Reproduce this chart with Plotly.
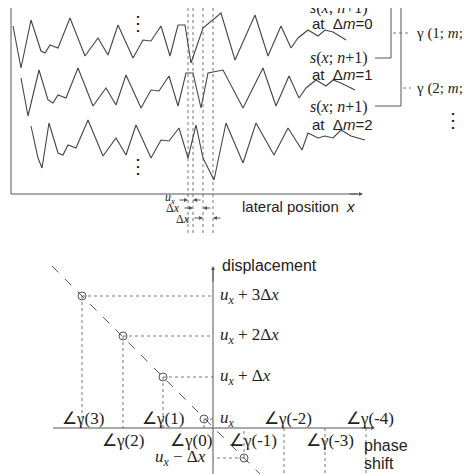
import plotly.graph_objects as go

# ---- top panel waveforms (x, y in diagram units) ----
wave1_x = [5,13,23,33,37,42,50,62,77,90,100,110,125,135,143,153,162,170,177,183,195,213,227,247,260,273,283,290,300,310,317,325,338]
wave1_y = [18,60,12,43,45,37,40,10,48,30,47,17,50,32,33,18,48,17,17,55,20,5,52,7,48,18,40,30,22,28,22,24,32]
wave2_x = [13,20,31,40,45,50,58,70,85,98,108,118,133,143,151,161,170,178,185,193,200,215,235,255,268,281,291,298,308,318,325,333,347]
wave2_y = [70,108,62,92,95,87,90,60,98,80,97,67,100,82,83,68,98,65,65,100,65,62,100,60,98,68,90,80,72,78,72,75,82]
wave3_x = [23,30,34,41,50,55,60,68,80,95,108,118,128,143,153,161,171,180,188,195,206,218,235,248,266,280,294,300,310,317,325,333,343,357]
wave3_y = [118,150,160,115,145,147,137,140,112,148,130,147,117,150,132,133,120,150,117,150,172,115,155,115,147,120,142,125,130,128,130,122,128,132]

# ---- bottom panel: phase-shift/displacement points ----
pt_x = [74,115,155,196,236]
pt_y = [288,328,369,411,450]
disp_labels = ["<i>u<sub>x</sub></i> + 3Δ<i>x</i>", "<i>u<sub>x</sub></i> + 2Δ<i>x</i>", "<i>u<sub>x</sub></i> + Δ<i>x</i>", "<i>u<sub>x</sub></i>"]
phase_labels = ["∠γ(3)","∠γ(2)","∠γ(1)","∠γ(0)","∠γ(-1)","∠γ(-2)","∠γ(-3)","∠γ(-4)"]
phase_x = [75,115,155,183,245,280,322,362]
phase_y = [410,432,410,432,432,410,432,410]

G = "#555"
fig = go.Figure()
def line(xs, ys, dash="solid", w=1, c=G):
    fig.add_trace(go.Scatter(x=xs, y=ys, mode="lines", line=dict(color=c, width=w, dash=dash), hoverinfo="skip"))

for wx, wy in [(wave1_x, wave1_y), (wave2_x, wave2_y), (wave3_x, wave3_y)]:
    line(wx, wy, w=1.1, c="#444")
line([3,3,350], [0,186,186])
for vx in [180,185,195,205]:
    line([vx,vx], [0,225], dash="dot", w=0.8)
line([367,383,383], [50,50,0])
line([367,393,393], [98,98,0])
line([385,403], [25,25], dash="dot", w=0.8)
line([395,403], [80,80], dash="dot", w=0.8)

line([45,362], [420,420])
line([205,205], [474,262])
line([44,260], [258,474], dash="dash", w=1)
for px, py in zip(pt_x, pt_y):
    line([px,205],[py,py], dash="dot", w=0.8)
    line([px,px],[py,420], dash="dot", w=0.8)
for vx in [276,317,358]:
    line([vx,vx],[420,474], dash="dot", w=0.8)
fig.add_trace(go.Scatter(x=pt_x, y=pt_y, mode="markers",
    marker=dict(symbol="circle-open", size=8, color=G, line=dict(width=1)), hoverinfo="skip"))

ann = []
def T(x, y, t, size=13, anchor="left", serif=True):
    ann.append(dict(x=x, y=y, text=t, showarrow=False, xanchor=anchor, yanchor="middle",
        font=dict(size=size, color="#222", family="Liberation Serif" if serif else "Liberation Sans")))
def A(x, y, ax, ay):
    ann.append(dict(x=x, y=y, ax=ax, ay=ay, axref="x", ayref="y", showarrow=True,
        arrowhead=2, arrowsize=0.8, arrowwidth=1, arrowcolor=G, text=""))

A(355,186,340,186)
A(205,258,205,275)
A(367,420,352,420)
A(180,192,170,192); A(185,192,194,192)
A(185,200,175,200); A(195,200,204,200)
A(195,210,185,210); A(205,210,214,210)
T(169,190,"<i>u<sub>x</sub></i>",12,"right")
T(174,200,"Δ<i>x</i>",12,"right")
T(184,211,"Δ<i>x</i>",12,"right")
T(232,198,"lateral position  <i>x</i>",15,serif=False)

T(300,0,"<i>s</i>(<i>x</i>; <i>n</i>+1)",16)
T(302,15,"at  Δ<i>m</i>=0",15,serif=False)
T(300,50,"<i>s</i>(<i>x</i>; <i>n</i>+1)",16)
T(302,66,"at  Δ<i>m</i>=1",15,serif=False)
T(300,99,"<i>s</i>(<i>x</i>; <i>n</i>+1)",16)
T(302,116,"at  Δ<i>m</i>=2",15,serif=False)
T(406,25,"γ (1; <i>m</i>; <i>n</i>)",15)
T(406,80,"γ (2; <i>m</i>; <i>n</i>)",15)
T(445,112,"⋮",20,"center")
T(130,15,"⋮",20,"center")
T(130,158,"⋮",20,"center")

T(212,257,"displacement",16,serif=False)
for lab, py in zip(disp_labels, pt_y[:4]):
    T(210, py, lab, 17)
T(200,450,"<i>u<sub>x</sub></i> − Δ<i>x</i>",17,"right")
for lab, px, py in zip(phase_labels, phase_x, phase_y):
    T(px, py, lab, 17, "center")
T(354,437,"phase",16,serif=False)
T(354,455,"shift",16,serif=False)

fig.update_layout(width=474, height=474, margin=dict(l=0,r=0,t=0,b=0),
    plot_bgcolor="white", paper_bgcolor="white", showlegend=False, annotations=ann,
    xaxis=dict(range=[0,474], visible=False, fixedrange=True),
    yaxis=dict(range=[474,0], visible=False, fixedrange=True))
fig.write_html("out.html")
